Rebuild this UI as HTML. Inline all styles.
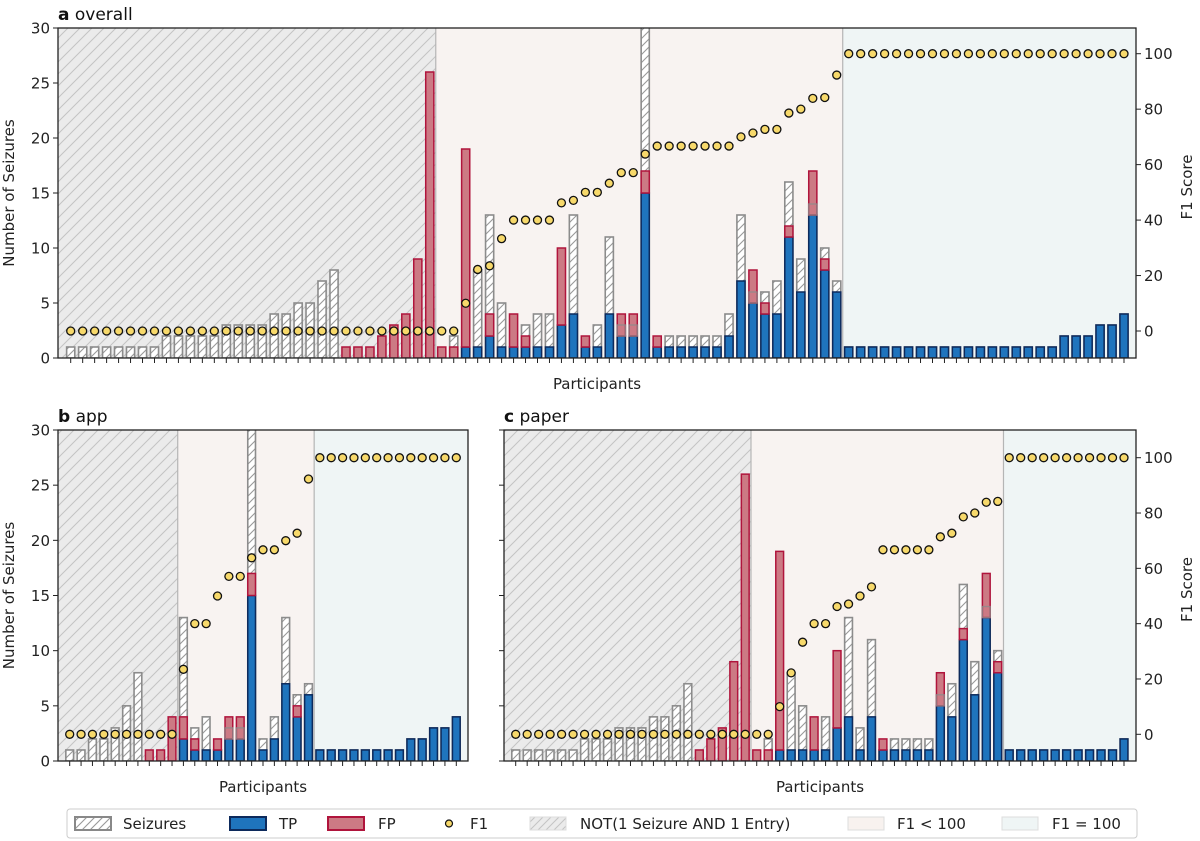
<!DOCTYPE html>
<html><head><meta charset="utf-8">
<style>
html,body{margin:0;padding:0;background:#fff;}
svg{display:block;font-family:"DejaVu Sans","Liberation Sans",sans-serif;}
</style></head>
<body>
<svg id="chart" width="1200" height="841" viewBox="0 0 1200 841" xmlns="http://www.w3.org/2000/svg">
<defs>
<pattern id="bgHatch" patternUnits="userSpaceOnUse" width="12" height="12" patternTransform="rotate(0)">
<rect width="12" height="12" fill="#ebebeb"/>
<path d="M-3,3 L3,-3 M0,12 L12,0 M9,15 L15,9" stroke="#c4c4c4" stroke-width="1"/>
</pattern>
<pattern id="barHatch" patternUnits="userSpaceOnUse" width="8" height="8">
<rect width="8" height="8" fill="#ffffff"/>
<path d="M-2,2 L2,-2 M0,8 L8,0 M6,10 L10,6" stroke="#999" stroke-width="1.1"/>
</pattern>
<pattern id="legHatch" patternUnits="userSpaceOnUse" width="8" height="8">
<rect width="8" height="8" fill="#ebebeb"/>
<path d="M-2,2 L2,-2 M0,8 L8,0 M6,10 L10,6" stroke="#c4c4c4" stroke-width="1"/>
</pattern>
</defs>
<g id="plots"></g>
<g id="legend">
<rect x="67" y="809" width="1070" height="29" rx="3" fill="#fff" stroke="#ccc"/>
<g><rect x="75" y="817" width="36" height="13" fill="url(#barHatch)" stroke="#888" stroke-width="2"/><text x="123" y="829" font-size="15" fill="#222">Seizures</text></g>
<g><rect x="230" y="817" width="36" height="13" fill="#1f74bd" stroke="#0d2a5c" stroke-width="2"/><text x="279" y="829" font-size="15" fill="#222">TP</text></g>
<g><rect x="328" y="817" width="36" height="13" fill="#cc7a84" stroke="#b0143c" stroke-width="2"/><text x="378" y="829" font-size="15" fill="#222">FP</text></g>
<g><circle cx="449" cy="823.5" r="3.5" fill="#f7d96b" stroke="#111" stroke-width="1.2"/><text x="470" y="829" font-size="15" fill="#222">F1</text></g>
<g><rect x="530" y="817" width="36" height="13" fill="url(#legHatch)" stroke="#ddd" stroke-width="1"/><text x="580" y="829" font-size="15" fill="#222">NOT(1 Seizure AND 1 Entry)</text></g>
<g><rect x="848" y="817" width="36" height="13" fill="#f8f2ef" stroke="#ddd" stroke-width="1"/><text x="897" y="829" font-size="15" fill="#222">F1 &lt; 100</text></g>
<g><rect x="1002" y="817" width="36" height="13" fill="#eff5f5" stroke="#ddd" stroke-width="1"/><text x="1052" y="829" font-size="15" fill="#222">F1 = 100</text></g>
</g>
</svg>
<script>
// ---- Panel a (overall) ----
const aSeizures = [1,1,1,1,1,1,1,1,2,2,2,2,2,3,3,3,3,4,4,5,5,7,8,0,0,0,0,0,0,0,0,
  0,2,1,8,13,5,1,3,4,4,3,13,1,3,11,3,3,32,1,2,2,2,2,2,4,13,6,6,7,16,9,14,10,7,
  1,1,1,1,1,1,1,1,1,1,1,1,1,1,1,1,1,1,2,2,2,3,3,4];
const aTP = [0,0,0,0,0,0,0,0,0,0,0,0,0,0,0,0,0,0,0,0,0,0,0,0,0,0,0,0,0,0,0,
  0,0,1,1,2,1,1,1,1,1,3,4,1,1,4,2,2,15,1,1,1,1,1,1,2,7,5,4,4,11,6,13,8,6,
  1,1,1,1,1,1,1,1,1,1,1,1,1,1,1,1,1,1,2,2,2,3,3,4];
const aFP = [0,0,0,0,0,0,0,0,0,0,0,0,0,0,0,0,0,0,0,0,0,0,0,1,1,1,2,3,4,9,26,
  1,1,18,0,2,0,3,1,0,0,7,0,1,0,0,2,2,2,1,0,0,0,0,0,0,0,3,1,0,1,0,4,1,0,
  0,0,0,0,0,0,0,0,0,0,0,0,0,0,0,0,0,0,0,0,0,0,0,0];
const aF1 = [0,0,0,0,0,0,0,0,0,0,0,0,0,0,0,0,0,0,0,0,0,0,0,0,0,0,0,0,0,0,0,
  0,0,10,22.2,23.5,33.3,40,40,40,40,46.2,47.1,50,50,53.3,57.1,57.1,63.8,66.7,66.7,66.7,66.7,66.7,66.7,66.7,70,71.4,72.7,72.7,78.6,80,83.9,84.2,92.3,
  100,100,100,100,100,100,100,100,100,100,100,100,100,100,100,100,100,100,100,100,100,100,100,100];
const aRegionEnds = [31, 65];
// ---- Panel b (app) ----
const bSeizures = [1,1,2,2,3,5,8,0,0,0, 13,3,4,1,3,3,32,2,4,13,6,7, 1,1,1,1,1,1,1,1,2,2,3,3,4];
const bTP = [0,0,0,0,0,0,0,0,0,0, 2,1,1,1,2,2,15,1,2,7,4,6, 1,1,1,1,1,1,1,1,2,2,3,3,4];
const bFP = [0,0,0,0,0,0,0,1,1,4, 2,1,0,1,2,2,2,0,0,0,1,0, 0,0,0,0,0,0,0,0,0,0,0,0,0];
const bF1 = [0,0,0,0,0,0,0,0,0,0, 23.5,40,40,50,57.1,57.1,63.8,66.7,66.7,70,72.7,92.3, 100,100,100,100,100,100,100,100,100,100,100,100,100];
const bRegionEnds = [10, 22];
// ---- Panel c (paper) ----
const cSeizures = [1,1,1,1,1,1,2,2,2,3,3,3,4,4,5,7,0,0,0,0,0,
  0,2,1,8,5,1,4,3,13,3,11,1,2,2,2,2,6,7,16,9,14,10,
  1,1,1,1,1,1,1,1,1,1,2];
const cTP = [0,0,0,0,0,0,0,0,0,0,0,0,0,0,0,0,0,0,0,0,0,
  0,0,1,1,1,1,1,3,4,1,4,1,1,1,1,1,5,4,11,6,13,8,
  1,1,1,1,1,1,1,1,1,1,2];
const cFP = [0,0,0,0,0,0,0,0,0,0,0,0,0,0,0,0,1,2,3,9,26,
  1,1,18,0,0,3,0,7,0,0,0,1,0,0,0,0,3,0,1,0,4,1,
  0,0,0,0,0,0,0,0,0,0,0];
const cF1 = [0,0,0,0,0,0,0,0,0,0,0,0,0,0,0,0,0,0,0,0,0,
  0,0,10,22.2,33.3,40,40,46.2,47.1,50,53.3,66.7,66.7,66.7,66.7,66.7,71.4,72.7,78.6,80,83.9,84.2,
  100,100,100,100,100,100,100,100,100,100,100];
const cRegionEnds = [21, 43];
const leftTicks = [0,5,10,15,20,25,30];
const rightTicks = [0,20,40,60,80,100];

const NS = "http://www.w3.org/2000/svg";
const root = document.getElementById('plots');
function mk(tag, attrs, parent){
  const e = document.createElementNS(NS, tag);
  for (const k in attrs) e.setAttribute(k, attrs[k]);
  (parent||root).appendChild(e);
  return e;
}

function drawPanel(cfg){
  const g = mk('g', {});
  
  
  const n = cfg.seizures.length;
  const step = (cfg.xLast - cfg.x0) / (n - 1);
  const xs = i => cfg.x0 + i * step;
  const ys = v => cfg.bottom - v * (cfg.bottom - cfg.top) / 30;
  const yf = v => cfg.f0 - v * (cfg.f0 - cfg.f100) / 100;
  const clipId = 'clip-' + cfg.name;
  const cp = mk('clipPath', {id: clipId}, g);
  mk('rect', {x: cfg.left, y: cfg.top, width: cfg.right - cfg.left, height: cfg.bottom - cfg.top}, cp);
  const inner = mk('g', {'clip-path': 'url(#' + clipId + ')'}, g);
  // regions
  const b1 = (xs(cfg.regionEnds[0]-1) + xs(cfg.regionEnds[0]))/2;
  const b2 = (xs(cfg.regionEnds[1]-1) + xs(cfg.regionEnds[1]))/2;
  const r1 = mk('rect', {x: cfg.left, y: cfg.top, width: b1 - cfg.left, height: cfg.bottom - cfg.top, fill: 'url(#bgHatch)'}, inner);
  
  
  const r2 = mk('rect', {x: b1, y: cfg.top, width: b2 - b1, height: cfg.bottom - cfg.top, fill: '#f8f3f1'}, inner);
  
  
  const r3 = mk('rect', {x: b2, y: cfg.top, width: cfg.right - b2, height: cfg.bottom - cfg.top, fill: '#eff5f5'}, inner);
  
  
  mk('line', {x1: b1, x2: b1, y1: cfg.top, y2: cfg.bottom, stroke: '#b5b5b5', 'stroke-width': 1.2}, inner);
  mk('line', {x1: b2, x2: b2, y1: cfg.top, y2: cfg.bottom, stroke: '#b5b5b5', 'stroke-width': 1.2}, inner);
  const bw = step * 0.68;
  for (let i = 0; i < n; i++){
    const x = xs(i) - bw/2;
    if (cfg.seizures[i] > 0){
      const s = mk('rect', {x: x, y: ys(cfg.seizures[i]), width: bw, height: ys(0) - ys(cfg.seizures[i]), fill: 'url(#barHatch)', stroke: '#8c8c8c', 'stroke-width': 1.6}, inner);
      
      
    }
    if (cfg.tp[i] > 0){
      const t = mk('rect', {x: x, y: ys(cfg.tp[i]), width: bw, height: ys(0) - ys(cfg.tp[i]), fill: '#1f74bd', stroke: '#0d2a5c', 'stroke-width': 1.5}, inner);
      
      
    }
    if (cfg.fp[i] > 0){
      const top = cfg.tp[i] + cfg.fp[i];
      const f = mk('rect', {x: x, y: ys(top), width: bw, height: ys(cfg.tp[i]) - ys(top), fill: '#cc7a84', stroke: '#b0143c', 'stroke-width': 1.5}, inner);
      
      
    }
    if (cfg.seizures[i] > 0 && cfg.seizures[i] < cfg.tp[i] + cfg.fp[i] + 0.01 && cfg.seizures[i] > cfg.tp[i]){
      mk('rect', {x: x, y: ys(cfg.seizures[i]), width: bw, height: ys(cfg.tp[i]) - ys(cfg.seizures[i]), fill: 'none', stroke: '#8c8c8c', 'stroke-width': 1.4, opacity: 0.8}, inner);
    }
  }
  for (let i = 0; i < n; i++){
    const c = mk('circle', {cx: xs(i), cy: yf(cfg.f1[i]), r: 4, fill: '#f7d96b', stroke: '#111', 'stroke-width': 1.3}, inner);
    
    
  }
  // frame
  mk('rect', {x: cfg.left, y: cfg.top, width: cfg.right - cfg.left, height: cfg.bottom - cfg.top, fill: 'none', stroke: '#222', 'stroke-width': 1.3}, g);
  // x ticks
  for (let i = 0; i < n; i++){
    mk('line', {x1: xs(i), x2: xs(i), y1: cfg.bottom, y2: cfg.bottom + 5, stroke: '#222', 'stroke-width': 1}, g);
  }
  // left ticks
  leftTicks.forEach(v => {
    mk('line', {x1: cfg.left - 5, x2: cfg.left, y1: ys(v), y2: ys(v), stroke: '#222', 'stroke-width': 1}, g);
    if (cfg.leftLabels){
      const t = mk('text', {x: cfg.left - 8, y: ys(v) + 5.5, 'text-anchor': 'end', 'font-size': 15, fill: '#222'}, g);
      t.textContent = v;
      
      
    }
  });
  if (cfg.rightLabels){
    rightTicks.forEach(v => {
      mk('line', {x1: cfg.right, x2: cfg.right + 5, y1: yf(v), y2: yf(v), stroke: '#222', 'stroke-width': 1}, g);
      const t = mk('text', {x: cfg.right + 8, y: yf(v) + 5.5, 'font-size': 15, fill: '#222'}, g);
      t.textContent = v;
      
      
    });
    const rt = mk('text', {x: 1198, y: (cfg.top + cfg.bottom)/2, 'text-anchor': 'middle', 'font-size': 15, fill: '#222', transform: 'rotate(-90 1192 ' + (cfg.top + cfg.bottom)/2 + ')'}, g);
    rt.textContent = 'F1 Score';
    
    
  }
  if (cfg.leftLabels){
    const cy = (cfg.top + cfg.bottom)/2;
    const lt = mk('text', {x: 14, y: cy, 'text-anchor': 'middle', 'font-size': 15, fill: '#222', transform: 'rotate(-90 14 ' + cy + ')'}, g);
    lt.textContent = 'Number of Seizures';
    
    
  }
  const xl = mk('text', {x: (cfg.left + cfg.right)/2, y: cfg.bottom + 31, 'text-anchor': 'middle', 'font-size': 15, fill: '#222'}, g);
  xl.textContent = 'Participants';
  
  
  const tt = mk('text', {x: cfg.left, y: cfg.top - 8, 'font-size': 17, fill: '#111'}, g);
  
  
  const tb = mk('tspan', {'font-weight': 'bold'}, tt);
  tb.textContent = cfg.letter;
  const tr = mk('tspan', {}, tt);
  tr.textContent = ' ' + cfg.title;
}

drawPanel({name: 'panel-a-overall', letter: 'a', title: 'overall', seizures: aSeizures, tp: aTP, fp: aFP, f1: aF1, regionEnds: aRegionEnds,
  left: 58, right: 1136, top: 28, bottom: 358, x0: 70.7, xLast: 1124, f0: 331, f100: 53.7, leftLabels: true, rightLabels: true});
drawPanel({name: 'panel-b-app', letter: 'b', title: 'app', seizures: bSeizures, tp: bTP, fp: bFP, f1: bF1, regionEnds: bRegionEnds,
  left: 58, right: 468, top: 430, bottom: 761, x0: 69.7, xLast: 456.3, f0: 734.3, f100: 457.7, leftLabels: true, rightLabels: false});
drawPanel({name: 'panel-c-paper', letter: 'c', title: 'paper', seizures: cSeizures, tp: cTP, fp: cFP, f1: cF1, regionEnds: cRegionEnds,
  left: 504, right: 1136, top: 430, bottom: 761, x0: 515.7, xLast: 1124, f0: 734.3, f100: 457.7, leftLabels: false, rightLabels: true});
</script>
</body></html>
